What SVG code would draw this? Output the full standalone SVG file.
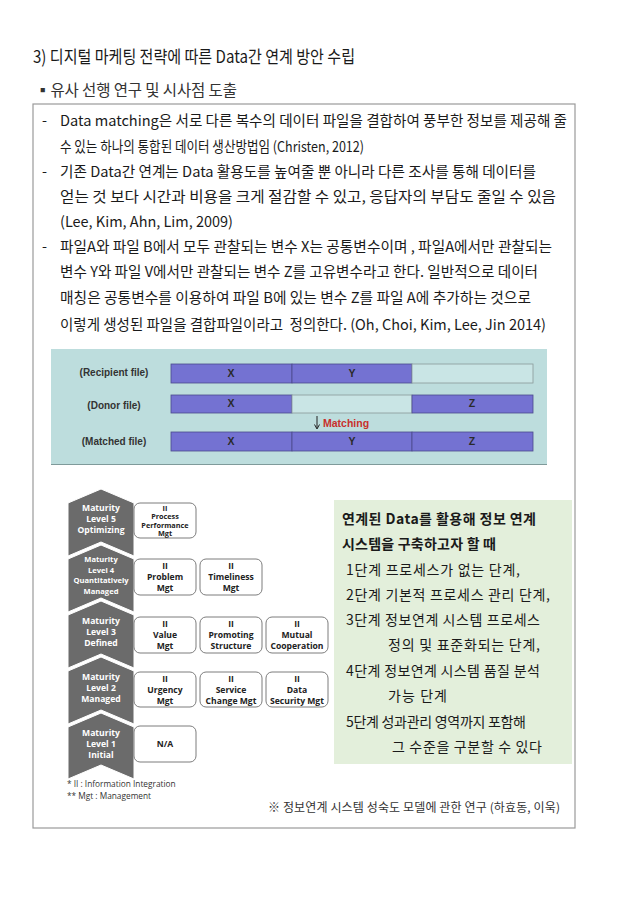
<svg xmlns="http://www.w3.org/2000/svg" width="638" height="922" viewBox="0 0 638 922">
<style>
.kr{font-family:"Noto Sans CJK KR","Noto Sans",sans-serif;fill:#1a1a1a}
.body{font-size:14.5px}
.lbl{font-family:"Liberation Sans",Arial,sans-serif;font-weight:bold;font-size:10px;fill:#333;text-anchor:middle}
.bar{fill:#7472d2;stroke:#4b4a8c;stroke-width:0.8}
.empty{fill:#c9e5e5;stroke:#8a9a9a;stroke-width:0.8}
.chev{fill:#6b6b6b;stroke:#fff;stroke-width:1}
.ct{font-family:"Open Sans","Noto Sans",sans-serif;font-weight:bold;font-size:8.6px;fill:#fff;text-anchor:middle}
.c4{font-size:7.6px}
.box{fill:#fff;stroke:#7d7d7d;stroke-width:1}
.bt{font-family:"Open Sans","Noto Sans",sans-serif;font-weight:bold;font-size:8.6px;fill:#222;text-anchor:middle}
.bs{font-size:7.3px}
.gt{font-size:14px}
</style>
<rect width="638" height="922" fill="#fff"/>
<g id="title">
<text class="kr" x="33" y="63" font-size="17.5" textLength="322" lengthAdjust="spacingAndGlyphs">3) 디지털 마케팅 전략에 따른 Data간 연계 방안 수립</text>
<text class="kr" x="35" y="96" font-size="15.5" textLength="202" style="fill:#333">▪유사 선행 연구 및 시사점 도출</text>
</g>
<g id="frame"><rect x="33" y="104" width="542" height="724" fill="none" stroke="#9a9a9a" stroke-width="1.2"/></g>
<g id="body-text">
<text class="kr body" x="42" y="126">-</text>
<text class="kr body" x="60" y="126" textLength="507" lengthAdjust="spacingAndGlyphs">Data matching은 서로 다른 복수의 데이터 파일을 결합하여 풍부한 정보를 제공해 줄</text>
<text class="kr body" x="60" y="152" textLength="304" lengthAdjust="spacingAndGlyphs">수 있는 하나의 통합된 데이터 생산방법임 (Christen, 2012)</text>
<text class="kr body" x="42" y="177">-</text>
<text class="kr body" x="60" y="177" textLength="476" lengthAdjust="spacingAndGlyphs">기존 Data간 연계는 Data 활용도를 높여줄 뿐 아니라 다른 조사를 통해 데이터를</text>
<text class="kr body" x="60" y="202" textLength="496" lengthAdjust="spacingAndGlyphs">얻는 것 보다 시간과 비용을 크게 절감할 수 있고, 응답자의 부담도 줄일 수 있음</text>
<text class="kr body" x="60" y="227" textLength="173" lengthAdjust="spacingAndGlyphs">(Lee, Kim, Ahn, Lim, 2009)</text>
<text class="kr body" x="42" y="252">-</text>
<text class="kr body" x="60" y="252" textLength="492" lengthAdjust="spacingAndGlyphs">파일A와 파일 B에서 모두 관찰되는 변수 X는 공통변수이며 , 파일A에서만 관찰되는</text>
<text class="kr body" x="60" y="277" textLength="478" lengthAdjust="spacingAndGlyphs">변수 Y와 파일 V에서만 관찰되는 변수 Z를 고유변수라고 한다. 일반적으로 데이터</text>
<text class="kr body" x="60" y="303" textLength="471" lengthAdjust="spacingAndGlyphs">매칭은 공통변수를 이용하여 파일 B에 있는 변수 Z를 파일 A에 추가하는 것으로</text>
<text class="kr body" x="60" y="330" textLength="486" lengthAdjust="spacingAndGlyphs" xml:space="preserve">이렇게 생성된 파일을 결합파일이라고  정의한다. (Oh, Choi, Kim, Lee, Jin 2014)</text>
</g>
<g id="matching-figure">
<rect x="51" y="349" width="496" height="116" fill="#bddddd"/>
<line x1="51" y1="464.5" x2="547" y2="464.5" stroke="#7f9a9a" stroke-width="1.2"/>
<text class="lbl" x="114" y="376">(Recipient file)</text>
<text class="lbl" x="114" y="409">(Donor file)</text>
<text class="lbl" x="114" y="445">(Matched file)</text>
<rect class="bar" x="171" y="364" width="121" height="19"/>
<rect class="bar" x="292" y="364" width="120" height="19"/>
<rect class="empty" x="412" y="364" width="121" height="19"/>
<rect class="bar" x="171" y="395" width="121" height="18"/>
<rect class="empty" x="292" y="395" width="120" height="18"/>
<rect class="bar" x="412" y="395" width="121" height="18"/>
<rect class="bar" x="171" y="432" width="121" height="19"/>
<rect class="bar" x="292" y="432" width="120" height="19"/>
<rect class="bar" x="412" y="432" width="121" height="19"/>
<g font-family="Liberation Sans,Arial,sans-serif" font-size="10.5" font-weight="bold" fill="#2a2a2a" text-anchor="middle">
<text x="231" y="377">X</text><text x="352" y="377">Y</text>
<text x="231" y="407">X</text><text x="472" y="407">Z</text>
<text x="231" y="445">X</text><text x="352" y="445">Y</text><text x="472" y="445">Z</text>
</g>
<line x1="317" y1="416" x2="317" y2="428" stroke="#222" stroke-width="1"/>
<path d="M314.5,424.5 L317,429 L319.5,424.5" fill="none" stroke="#222" stroke-width="1"/>
<text x="323" y="427" font-family="Liberation Sans,Arial,sans-serif" font-weight="bold" font-size="10.5" fill="#c8302c">Matching</text>
</g>
<g id="maturity-levels">
<g id="level5"><polygon class="chev" points="68,503 101,489 134,503 134,556 101,542 68,556"/>
<text class="ct" x="101" y="511">Maturity</text><text class="ct" x="101" y="522">Level 5</text><text class="ct" x="101" y="533">Optimizing</text></g>
<g id="level4"><polygon class="chev" points="68,559 101,545 134,559 134,612 101,598 68,612"/>
<text class="ct c4" x="101" y="562">Maturity</text><text class="ct c4" x="101" y="572.5">Level 4</text><text class="ct c4" x="101" y="583">Quantitatively</text><text class="ct c4" x="101" y="593.5">Managed</text></g>
<g id="level3"><polygon class="chev" points="68,615 101,601 134,615 134,668 101,654 68,668"/>
<text class="ct" x="101" y="624">Maturity</text><text class="ct" x="101" y="635">Level 3</text><text class="ct" x="101" y="646">Defined</text></g>
<g id="level2"><polygon class="chev" points="68,671 101,657 134,671 134,724 101,710 68,724"/>
<text class="ct" x="101" y="680">Maturity</text><text class="ct" x="101" y="691">Level 2</text><text class="ct" x="101" y="702">Managed</text></g>
<g id="level1"><polygon class="chev" points="68,727 101,713 134,727 134,779 101,765 68,779"/>
<text class="ct" x="101" y="736">Maturity</text><text class="ct" x="101" y="747">Level 1</text><text class="ct" x="101" y="758">Initial</text></g>
</g>
<g id="ii-boxes">
<g id="b5a"><rect class="box" x="134" y="503" width="62" height="35" rx="6"/>
<text class="bt bs" x="165" y="510.5">II</text><text class="bt bs" x="165" y="519">Process</text><text class="bt bs" x="165" y="527.5">Performance</text><text class="bt bs" x="165" y="536">Mgt</text></g>
<g id="b4a"><rect class="box" x="134" y="559" width="62" height="36" rx="6"/>
<text class="bt" x="165" y="569">II</text><text class="bt" x="165" y="580">Problem</text><text class="bt" x="165" y="591">Mgt</text></g>
<g id="b4b"><rect class="box" x="200" y="559" width="62" height="36" rx="6"/>
<text class="bt" x="231" y="569">II</text><text class="bt" x="231" y="580">Timeliness</text><text class="bt" x="231" y="591">Mgt</text></g>
<g id="b3a"><rect class="box" x="134" y="617" width="62" height="36" rx="6"/>
<text class="bt" x="165" y="627">II</text><text class="bt" x="165" y="638">Value</text><text class="bt" x="165" y="649">Mgt</text></g>
<g id="b3b"><rect class="box" x="200" y="617" width="62" height="36" rx="6"/>
<text class="bt" x="231" y="627">II</text><text class="bt" x="231" y="638">Promoting</text><text class="bt" x="231" y="649">Structure</text></g>
<g id="b3c"><rect class="box" x="266" y="617" width="62" height="36" rx="6"/>
<text class="bt" x="297" y="627">II</text><text class="bt" x="297" y="638">Mutual</text><text class="bt" x="297" y="649">Cooperation</text></g>
<g id="b2a"><rect class="box" x="134" y="672" width="62" height="35" rx="6"/>
<text class="bt" x="165" y="682">II</text><text class="bt" x="165" y="693">Urgency</text><text class="bt" x="165" y="704">Mgt</text></g>
<g id="b2b"><rect class="box" x="200" y="672" width="62" height="35" rx="6"/>
<text class="bt" x="231" y="682">II</text><text class="bt" x="231" y="693">Service</text><text class="bt" x="231" y="704">Change Mgt</text></g>
<g id="b2c"><rect class="box" x="266" y="672" width="62" height="35" rx="6"/>
<text class="bt" x="297" y="682">II</text><text class="bt" x="297" y="693">Data</text><text class="bt" x="297" y="704">Security Mgt</text></g>
<g id="b1a"><rect class="box" x="134" y="726" width="62" height="36" rx="6"/>
<text class="bt" x="165" y="747" font-size="9.5">N/A</text></g>
</g>
<g id="footnotes" font-family="Open Sans,Noto Sans,sans-serif" font-size="8.3" fill="#333">
<text x="67" y="787">* II : Information Integration</text>
<text x="67" y="799">** Mgt : Management</text>
</g>
<g id="summary">
<rect x="334" y="500" width="238" height="264" fill="#e3efdb"/>
<text class="kr gt" x="342" y="524" font-weight="bold" textLength="194">연계된 Data를 활용해 정보 연계</text>
<text class="kr gt" x="342" y="549" font-weight="bold" textLength="154">시스템을 구축하고자 할 때</text>
<text class="kr gt" x="346" y="575" textLength="174">1단계 프로세스가 없는 단계,</text>
<text class="kr gt" x="346" y="600" textLength="204">2단계 기본적 프로세스 관리 단계,</text>
<text class="kr gt" x="346" y="625" textLength="194">3단계 정보연계 시스템 프로세스</text>
<text class="kr gt" x="388" y="650" textLength="152">정의 및 표준화되는 단계,</text>
<text class="kr gt" x="346" y="676" textLength="194">4단계 정보연계 시스템 품질 분석</text>
<text class="kr gt" x="388" y="701" textLength="59">가능 단계</text>
<text class="kr gt" x="346" y="727" textLength="180">5단계 성과관리 영역까지 포함해</text>
<text class="kr gt" x="392" y="752" textLength="150">그 수준을 구분할 수 있다</text>
</g>
<g id="caption">
<text class="kr" x="268" y="812" font-size="12" textLength="292" style="fill:#333">※ 정보연계 시스템 성숙도 모델에 관한 연구 (하효동, 이욱)</text>
</g>
</svg>
